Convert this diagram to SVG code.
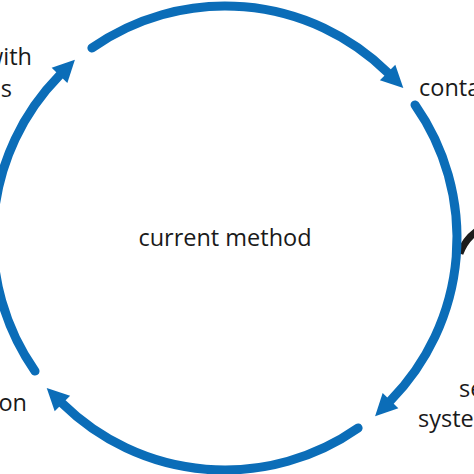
<svg xmlns="http://www.w3.org/2000/svg" width="474" height="474" viewBox="0 0 474 474">
<style>
.seg{fill:none;stroke:#0b6db8;stroke-width:9;stroke-linecap:round;marker-end:url(#ah)}
.lbl{font-family:"Open Sans","Noto Sans",sans-serif;font-size:23.5px;fill:#1a1a1a}
</style>
<defs>
<marker id="ah" markerUnits="userSpaceOnUse" viewBox="-2 -12 26 24" refX="0" refY="0" markerWidth="26" markerHeight="24" orient="auto">
<path d="M0,-11 L22,0 L0,11 z" fill="#0b6db8"/>
</marker>
</defs>
<g id="link">
<path d="M459.9,253.6 A48 48 0 0 1 513.3,222.7" fill="none" stroke="#1c1c1c" stroke-width="7"/>
</g>
<g id="connectors">
<path class="seg" d="M91.9,48.0 A232 232 0 0 1 387.6,72.5"/>
<path class="seg" d="M415.0,104.9 A232 232 0 0 1 390.5,400.6"/>
<path class="seg" d="M358.1,428.0 A232 232 0 0 1 62.4,403.5"/>
<path class="seg" d="M35.0,371.1 A232 232 0 0 1 59.5,75.4"/>
</g>
<g id="center"><text class="lbl" x="225" y="246" text-anchor="middle">current method</text></g>
<g id="node-topleft"><text class="lbl" x="32" y="65" text-anchor="end">with</text><text class="lbl" x="12" y="97" text-anchor="end">s</text></g>
<g id="node-topright"><text class="lbl" x="419" y="96">conta</text></g>
<g id="node-bottomright"><text class="lbl" x="459" y="397">se</text><text class="lbl" x="418" y="427">syste</text></g>
<g id="node-bottomleft"><text class="lbl" x="27" y="411" text-anchor="end">on</text></g>
</svg>
